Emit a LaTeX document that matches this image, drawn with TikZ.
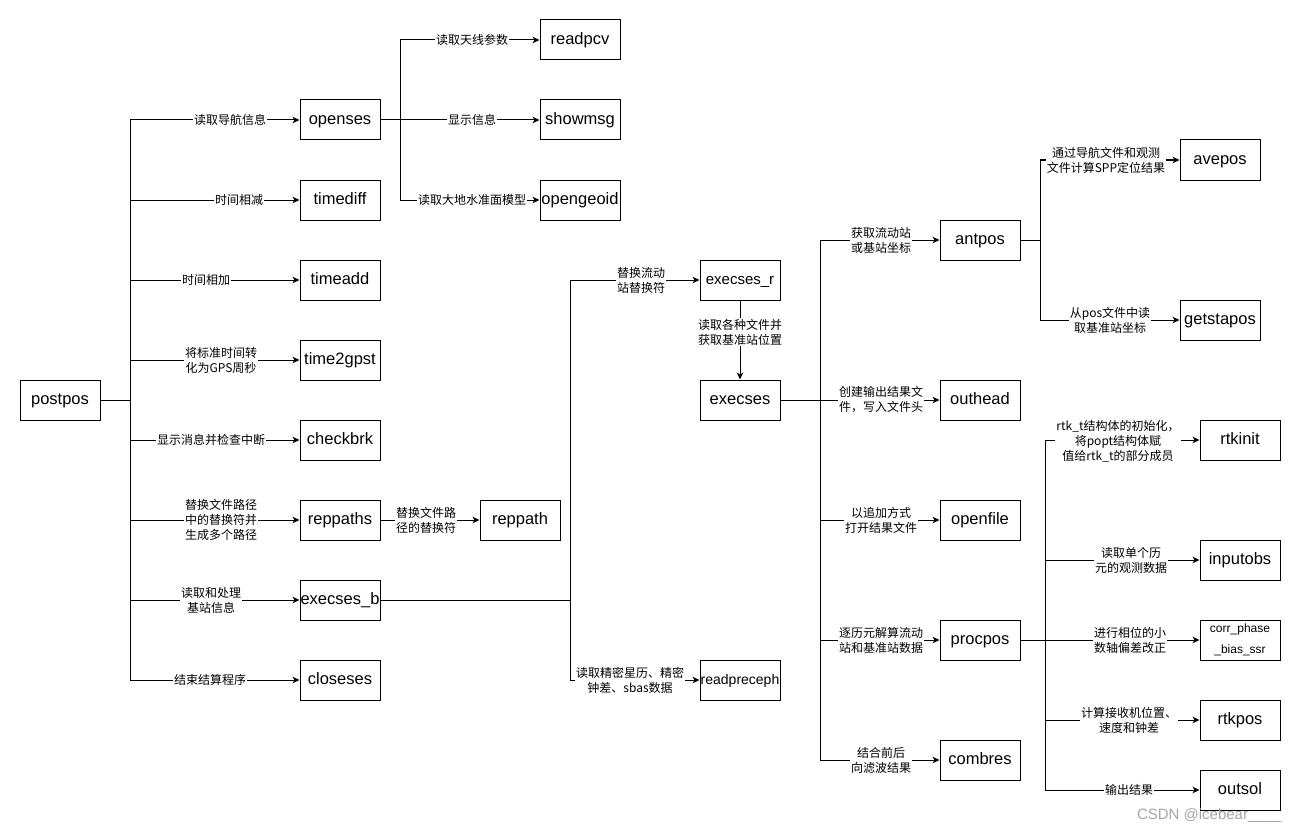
\documentclass[tikz,border=0pt]{standalone}
\usepackage{fontspec}
\setmainfont{Liberation Sans}
\newfontfamily\cjk{Noto Sans CJK SC}
\usetikzlibrary{arrows.meta}

\begin{document}
\begin{tikzpicture}[x=1pt,y=-1pt,
  fnbox/.style={draw, line width=1pt, minimum width=80pt, minimum height=40pt,
    inner sep=0pt, align=center, text height=11.6pt, text depth=3.3pt,
    font=\fontsize{16.5}{19}\selectfont},
  lbl/.style={fill=white, inner sep=1pt, align=center,
    font=\cjk\fontsize{12}{15}\selectfont},
  wire/.style={line width=1pt},
  arr/.style={line width=1pt, -{Stealth[length=7pt,width=6.5pt,inset=2pt]}}]
\useasboundingbox (0,0) rectangle (1301,832);

% function boxes
\foreach \n/\x/\y/\t in {postpos/60/400/postpos,
    openses/340/120/openses, timediff/340/200/timediff, timeadd/340/280/timeadd,
    timegpst/340/360/time2gpst, checkbrk/340/440/checkbrk, reppaths/340/520/reppaths,
    execsesb/340/600/execses\_b, closeses/340/680/closeses,
    readpcv/580/40/readpcv, showmsg/580/120/showmsg, opengeoid/580/200/opengeoid,
    reppath/520/520/reppath, execses/740/400/execses,
    antpos/980/240/antpos, outhead/980/400/outhead, openfile/980/520/openfile,
    procpos/980/640/procpos, combres/980/760/combres,
    avepos/1220/160/avepos, getstapos/1220/320/getstapos,
    rtkinit/1240/440/rtkinit, inputobs/1240/560/inputobs,
    rtkpos/1240/720/rtkpos, outsol/1240/790/outsol}
  \node[fnbox] (\n) at (\x,\y) {\t};
\node[fnbox, font=\fontsize{15}{18}\selectfont] (execsesr) at (740,280) {execses\_r};
\node[fnbox, font=\fontsize{14}{17}\selectfont] (readpreceph) at (740,680) {readpreceph};
\node[fnbox, text height=, text depth=, font=\fontsize{12}{21}\selectfont] (corrphase) at (1240,640) {corr\_phase\\\_bias\_ssr};

% junctions
\coordinate (j1) at (130,400);
\coordinate (j2) at (400,120);
\coordinate (j3) at (570,600);
\coordinate (j4) at (820,400);
\coordinate (j5) at (1040,240);
\coordinate (j6) at (1045,640);

% postpos
\draw[wire] (postpos) -- (j1);
\foreach \n/\lx/\t in {openses/230/读取导航信息, timediff/239/时间相减,
    timeadd/206/时间相加, timegpst/221/{将标准时间转\\化为GPS周秒},
    checkbrk/211/显示消息并检查中断, reppaths/221/{替换文件路径\\中的替换符并\\生成多个路径},
    execsesb/211/{读取和处理\\基站信息}, closeses/210/结束结算程序}
  \draw[arr] (j1) |- (\n) node[lbl] at (\lx,0 |- \n) {\t};

% openses
\draw[wire] (openses) -- (j2);
\foreach \n/\t in {readpcv/读取天线参数, showmsg/显示信息, opengeoid/读取大地水准面模型}
  \draw[arr] (j2) |- (\n) node[lbl] at (472,0 |- \n) {\t};

\draw[arr] (reppaths) -- (reppath) node[lbl] at (426,520) {替换文件路\\径的替换符};

% execses_b
\draw[wire] (execsesb) -- (j3);
\draw[arr] (j3) |- (execsesr) node[lbl] at (641,280) {替换流动\\站替换符};
\draw[arr] (j3) |- (readpreceph) node[lbl] at (630,680) {读取精密星历、精密\\钟差、sbas数据};
\draw[arr] (execsesr) -- (execses) node[lbl] at (740,332) {读取各种文件并\\获取基准站位置};

% execses
\draw[wire] (execses) -- (j4);
\foreach \n/\t in {antpos/{获取流动站\\或基站坐标}, outhead/{创建输出结果文\\件，写入文件头},
    openfile/{以追加方式\\打开结果文件}, procpos/{逐历元解算流动\\站和基准站数据},
    combres/{结合前后\\向滤波结果}}
  \draw[arr] (j4) |- (\n) node[lbl] at (881,0 |- \n) {\t};

% antpos
\draw[wire] (antpos) -- (j5);
\draw[arr] (j5) |- (avepos) node[lbl] at (1106,160) {通过导航文件和观测\\文件计算SPP定位结果};
\draw[arr] (j5) |- (getstapos) node[lbl] at (1110,320) {从pos文件中读\\取基准站坐标};

% procpos
\draw[wire] (procpos) -- (j6);
\draw[arr] (j6) |- (rtkinit) node[lbl] at (1118,441) {rtk\_t结构体的初始化，\\将popt结构体赋\\值给rtk\_t的部分成员};
\foreach \n/\lx/\t in {inputobs/1131/{读取单个历\\元的观测数据}, corrphase/1130/{进行相位的小\\数轴偏差改正},
    rtkpos/1129/{计算接收机位置、\\速度和钟差}, outsol/1129/输出结果}
  \draw[arr] (j6) |- (\n) node[lbl] at (\lx,0 |- \n) {\t};

\node[text=black!35, font=\fontsize{15}{18}\selectfont, anchor=east] (mark) at (1285,816) {CSDN @icebear\_\_\_\_};
\end{tikzpicture}
\end{document}
